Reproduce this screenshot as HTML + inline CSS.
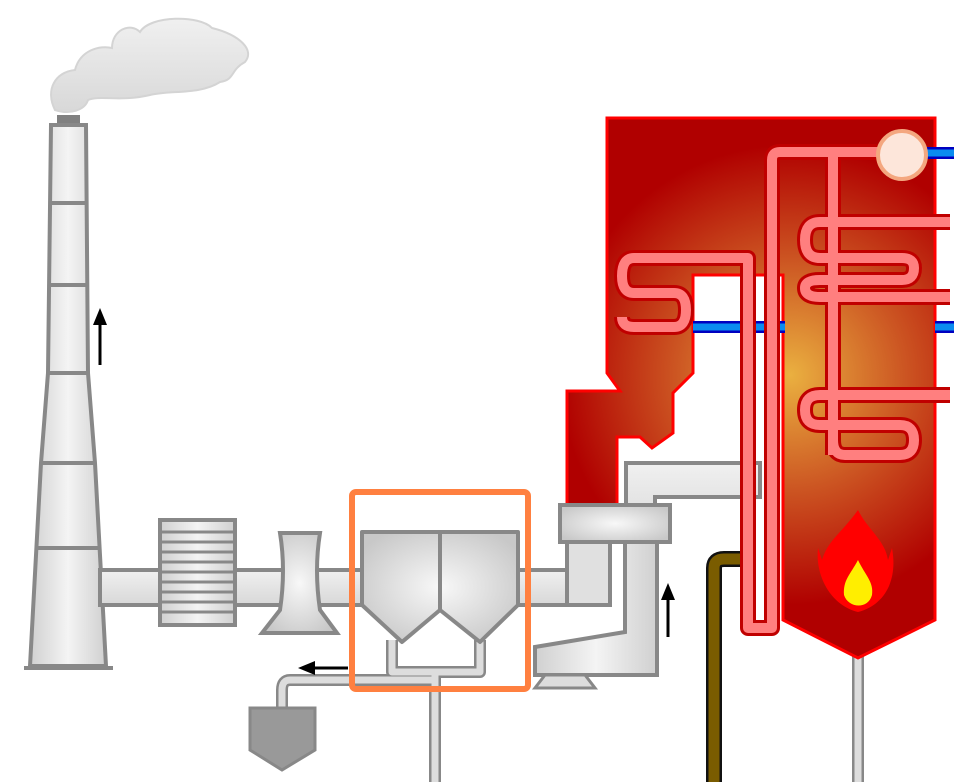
<!DOCTYPE html>
<html><head><meta charset="utf-8"><style>html,body{margin:0;padding:0;background:#fff}svg{display:block}</style></head>
<body>
<svg width="954" height="782" viewBox="0 0 954 782" xmlns="http://www.w3.org/2000/svg">
<defs>
<radialGradient id="fire" cx="790" cy="375" r="230" gradientUnits="userSpaceOnUse">
<stop offset="0" stop-color="#eab040"/><stop offset="0.5" stop-color="#cc5522"/><stop offset="1" stop-color="#b00000"/>
</radialGradient>
<radialGradient id="gr" cx="0.5" cy="0.5" r="0.6"><stop offset="0" stop-color="#f8f8f8"/><stop offset="1" stop-color="#c8c8c8"/></radialGradient>
<linearGradient id="gh" x1="0" x2="1"><stop offset="0" stop-color="#d0d0d0"/><stop offset="0.5" stop-color="#f4f4f4"/><stop offset="1" stop-color="#d0d0d0"/></linearGradient>
<linearGradient id="gv" x1="0" x2="0" y1="0" y2="1"><stop offset="0" stop-color="#f0f0f0"/><stop offset="1" stop-color="#d8d8d8"/></linearGradient>
</defs>

<!-- smoke -->
<path d="M55,110 C45,90 55,72 75,70 C80,50 100,45 112,48 C112,30 130,22 140,32 C150,15 200,15 212,28 C240,35 255,50 245,62 C230,70 235,80 220,82 C200,95 170,90 150,95 C120,102 100,95 88,100 C85,110 70,115 55,110 Z" fill="url(#gv)" stroke="#d4d4d4" stroke-width="2"/>

<!-- chimney -->
<rect x="57" y="115" width="23" height="11" fill="#808080"/>
<path d="M51,125 H86 L88,373 L95,463 L106,666 H30 L41,463 L48,373 Z" fill="url(#gh)" stroke="#888" stroke-width="4"/>
<line x1="24" y1="668" x2="113" y2="668" stroke="#888" stroke-width="4"/>
<g stroke="#888" stroke-width="4">
<line x1="51" y1="203" x2="86" y2="203"/><line x1="50" y1="285" x2="87" y2="285"/>
<line x1="48" y1="373" x2="88" y2="373"/><line x1="41" y1="463" x2="95" y2="463"/>
<line x1="37" y1="548" x2="99" y2="548"/>
</g>

<!-- lower pipes -->
<g fill="none" stroke-linejoin="round">
<path d="M435,782 V672 M392,640 V672 H480 V640 M435,680 H290 Q282,680 282,690 V712" stroke="#888" stroke-width="12"/>
<path d="M435,782 V672 M392,640 V672 H480 V640 M435,680 H290 Q282,680 282,690 V712" stroke="#ddd" stroke-width="7"/>
<path d="M858,650 V782" stroke="#888" stroke-width="12"/><path d="M858,650 V782" stroke="#ddd" stroke-width="7"/>
</g>
<path d="M250,708 H315 V750 L282,770 L250,750 Z" fill="#999" stroke="#888" stroke-width="3"/>

<!-- main duct -->
<rect x="100" y="570" width="510" height="35" fill="url(#gv)" stroke="#888" stroke-width="4"/>
<rect x="567" y="530" width="43" height="75" fill="#e0e0e0" stroke="#888" stroke-width="4"/>
<rect x="569" y="572" width="39" height="31" fill="#e0e0e0"/>
<!-- right return duct -->
<path d="M625,540 H657 V675 H535 V647 L625,632 Z" fill="url(#gh)" stroke="#888" stroke-width="4"/>
<path d="M545,675 H585 L595,688 H535 Z" fill="#ddd" stroke="#888" stroke-width="3"/>
<!-- top duct -->
<path d="M626,542 V463 H760 V497 H655 V542" fill="url(#gv)" stroke="#888" stroke-width="4"/>

<!-- furnace -->
<path d="M607,118 H935 V620 L858,658 L783,620 V275 H693 V373 L673,393 V433 L652,448 L640,437 H617 V505 H567 V391 H620 L607,373 Z" fill="url(#fire)" stroke="#ff0000" stroke-width="3"/>

<!-- box -->
<rect x="560" y="505" width="110" height="37" fill="url(#gr)" stroke="#888" stroke-width="4"/>

<!-- blue pipes -->
<g fill="none">
<path d="M693,327 H785 M935,327 H954 M905,153 H954" stroke="#0000c0" stroke-width="12"/>
<path d="M693,327 H785 M935,327 H954 M905,153 H954" stroke="#0a8cf0" stroke-width="7"/>
</g>

<!-- brown pipe -->
<path d="M714,782 V568 Q714,559 724,559 H745" fill="none" stroke="#111" stroke-width="16"/>
<path d="M714,782 V568 Q714,559 724,559 H745" fill="none" stroke="#7a5c00" stroke-width="11"/>

<!-- tubes -->
<g fill="none" stroke-linejoin="round" stroke-linecap="butt">
<path d="M772,160 V628 H748 V258 H634 Q622,258 622,276 Q622,293 634,293 H674 Q686,293 686,310 Q686,327 674,327 H634 Q622,327 622,317 M772,160 Q772,152 780,152 H905 M833,153 V455 M950,222 H820 Q805,222 805,240 Q805,258 820,258 H902 Q914,258 914,268 Q914,280 902,280 H820 Q805,280 805,288 Q805,297 820,297 H950 M950,395 H820 Q805,395 805,410 Q805,425 820,425 H900 Q914,425 914,440 Q914,455 900,455 H845 Q833,455 833,440" stroke="#c00000" stroke-width="16"/>
<path d="M772,160 V628 H748 V258 H634 Q622,258 622,276 Q622,293 634,293 H674 Q686,293 686,310 Q686,327 674,327 H634 Q622,327 622,317 M772,160 Q772,152 780,152 H905 M833,153 V455 M950,222 H820 Q805,222 805,240 Q805,258 820,258 H902 Q914,258 914,268 Q914,280 902,280 H820 Q805,280 805,288 Q805,297 820,297 H950 M950,395 H820 Q805,395 805,410 Q805,425 820,425 H900 Q914,425 914,440 Q914,455 900,455 H845 Q833,455 833,440" stroke="#ff7f7f" stroke-width="10"/>
</g>
<circle cx="902" cy="155" r="24" fill="#fde6da" stroke="#f4a77f" stroke-width="4"/>

<!-- flame -->
<path d="M858,510 C840,535 828,540 822,560 L818,548 C815,575 830,605 858,612 C885,605 898,580 892,548 L888,560 C885,540 868,530 858,510 Z" fill="#ff0000"/>
<path d="M858,560 C850,575 843,580 844,595 C848,608 868,610 872,595 C874,582 865,575 858,560 Z" fill="#ffee00"/>

<!-- heat exchanger -->
<rect x="160" y="520" width="75" height="105" fill="url(#gh)" stroke="#888" stroke-width="4"/>
<g stroke="#888" stroke-width="3">
<line x1="160" y1="532" x2="235" y2="532"/><line x1="160" y1="542" x2="235" y2="542"/><line x1="160" y1="552" x2="235" y2="552"/>
<line x1="160" y1="562" x2="235" y2="562"/><line x1="160" y1="572" x2="235" y2="572"/><line x1="160" y1="582" x2="235" y2="582"/>
<line x1="160" y1="592" x2="235" y2="592"/><line x1="160" y1="602" x2="235" y2="602"/><line x1="160" y1="612" x2="235" y2="612"/>
</g>
<!-- ID fan -->
<path d="M280,533 H320 Q314,570 320,610 L337,633 H262 L280,610 Q286,570 280,533 Z" fill="url(#gr)" stroke="#888" stroke-width="4"/>

<!-- precipitator -->
<path d="M362,532 H518 V605 L480,642 L440,610 L402,642 L362,605 Z" fill="url(#gr)" stroke="#888" stroke-width="4" stroke-linejoin="round"/>
<line x1="440" y1="532" x2="440" y2="610" stroke="#888" stroke-width="4"/>
<rect x="352" y="492" width="176" height="197" rx="4" fill="none" stroke="#ff8040" stroke-width="6"/>

<!-- arrows -->
<g stroke="#000" stroke-width="3" fill="#000">
<line x1="100" y1="365" x2="100" y2="325"/><path d="M93,325 L100,308 L107,325 Z" stroke="none"/>
<line x1="668" y1="637" x2="668" y2="600"/><path d="M661,600 L668,583 L675,600 Z" stroke="none"/>
<line x1="348" y1="668" x2="315" y2="668"/><path d="M315,661 L298,668 L315,675 Z" stroke="none"/>
</g>
</svg>
</body></html>
